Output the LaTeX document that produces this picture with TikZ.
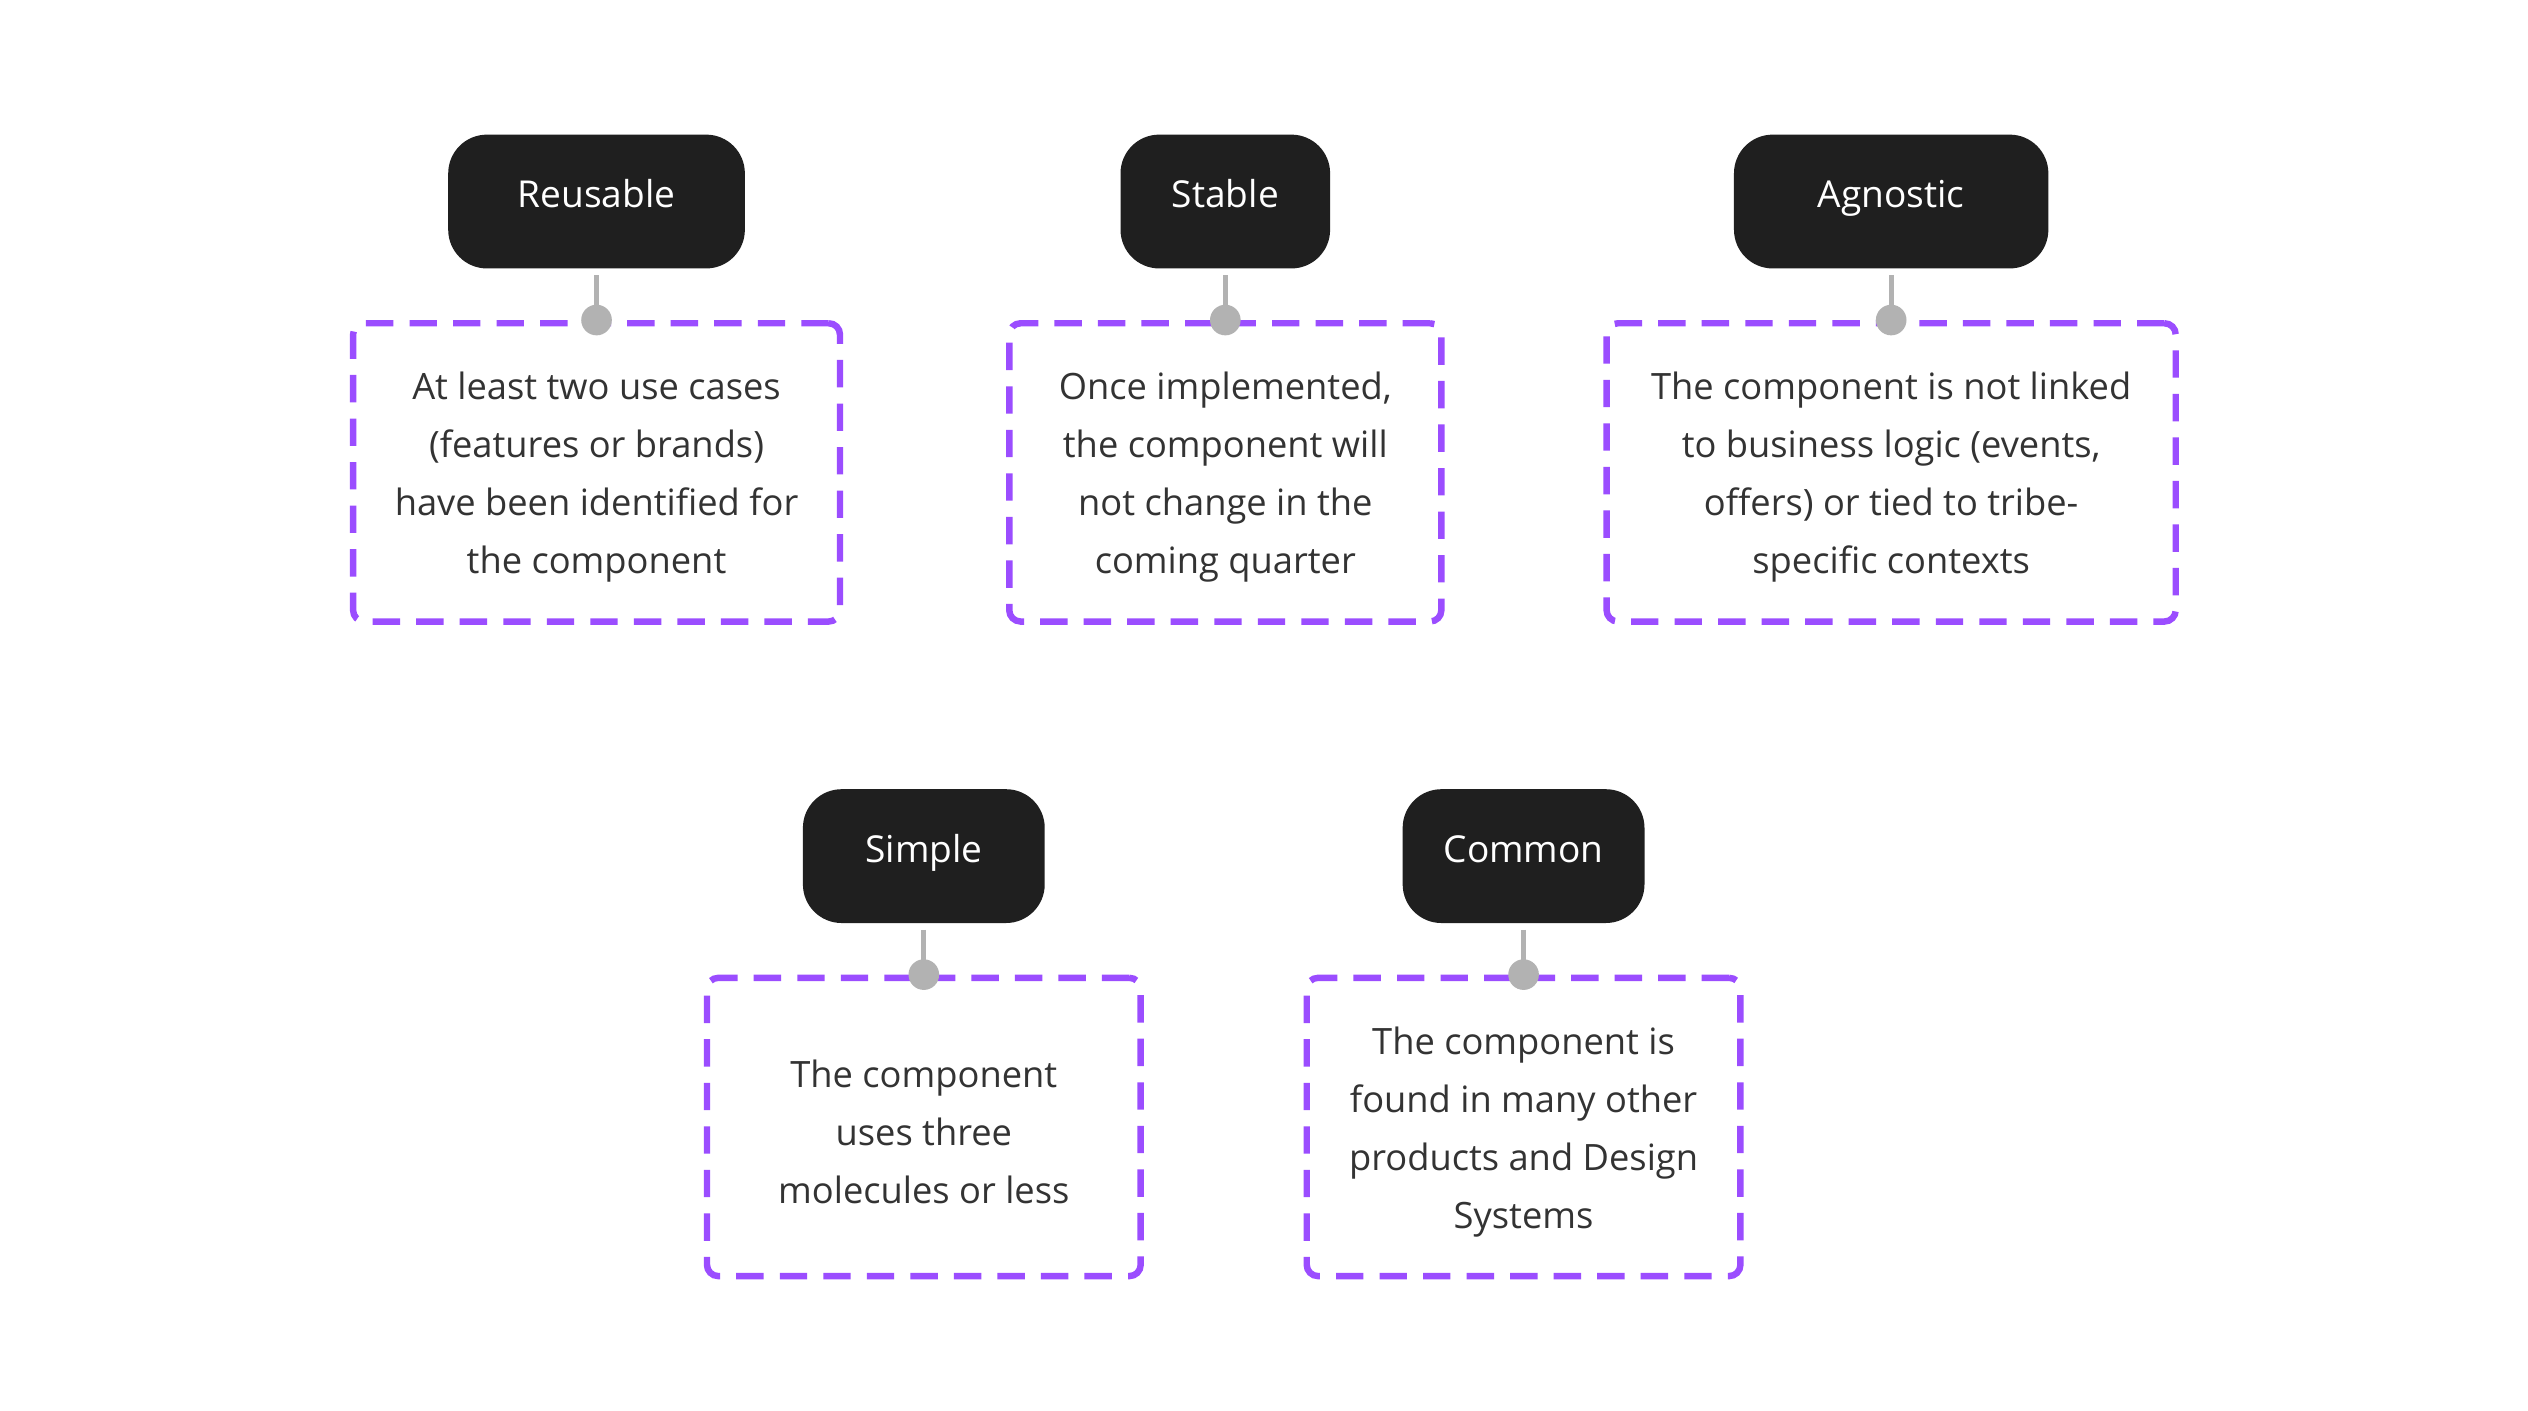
\documentclass[tikz,border=0pt]{standalone}
\usepackage{fontspec}
\setmainfont{Open Sans}
\begin{document}
\begin{tikzpicture}[x=1pt,y=-1pt,
 pill/.style={fill=black!88,text=white,rounded corners=24pt,inner sep=0pt,text height=15pt,text depth=7pt,font=\fontsize{23}{28}\selectfont},
 box/.style={draw={rgb,255:red,155;green,77;blue,255},line width=4pt,dash pattern=on 17pt off 10pt,rounded corners=7pt,inner sep=0pt},
 txt/.style={align=center,text=black!80,inner sep=0pt,font=\fontsize{22.5}{36}\selectfont},
 conn/.style={draw=black!30,line width=3pt},
 dot/.style={circle,fill=black!30,minimum size=19pt,inner sep=0pt}]
\fill[white] (0,0) rectangle (1568,875);
\useasboundingbox (0,0) rectangle (1568,875);
\def\item#1#2#3#4#5#6#7{%
 \node[pill,minimum width=#3pt,minimum height=83pt] (p#1) at (#2,#4) {#6};
 \node[box,minimum width=#5pt,minimum height=185pt] (b#1) at (#2,#4+168) {};
 \node[txt] (x#1) at (#2,#4+171) {#7};
 \coordinate (t#1) at ([yshift=-4pt]p#1.south);
 \node[dot] (d#1) at (b#1.north) {};
 \draw[conn] (t#1) -- (d#1.center);}
\item{a}{370}{184}{125}{302}{Reusable}{At least two use cases\\(features or brands)\\have been identified for\\the component}
\item{b}{760}{130}{125}{268}{Stable}{Once implemented,\\the component will\\not change in the\\coming quarter}
\item{c}{1173}{195}{125}{353}{Agnostic}{The component is not linked\\to business logic (events,\\offers) or tied to tribe-\\specific contexts}
\item{d}{573}{150}{531}{269}{Simple}{The component\\uses three\\molecules or less}
\item{e}{945}{150}{531}{269}{Common}{The component is\\found in many other\\products and Design\\Systems}
\end{tikzpicture}
\end{document}
